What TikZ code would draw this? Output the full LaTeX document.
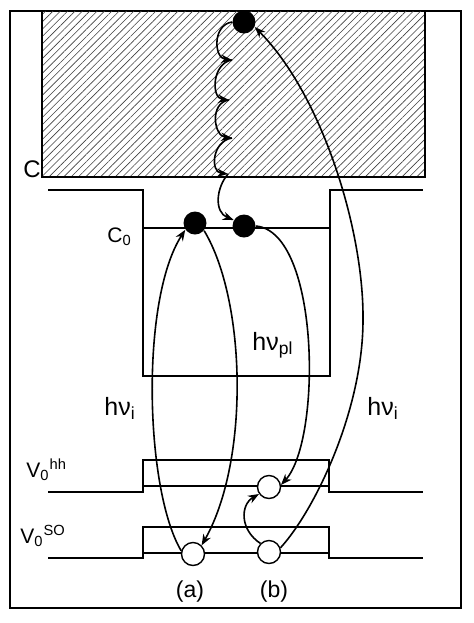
\documentclass[tikz,border=0pt]{standalone}
\usepackage{fontspec}
\setmainfont{Liberation Sans}
\usetikzlibrary{arrows.meta,patterns.meta}
\tikzset{
  frame/.style={draw,line width=1pt},
  band/.style={draw,line width=0.7pt},
  electron/.style={circle,fill=black,minimum size=11.5pt,inner sep=0pt},
  hole/.style={circle,draw,line width=0.7pt,fill=white,minimum size=11.5pt,inner sep=0pt},
  arrow/.style={-{Stealth[length=5.5pt,width=4.2pt]},line width=0.8pt},
  bigtext/.style={font=\fontsize{12}{12}\selectfont,inner sep=0pt},
  smalltext/.style={font=\fontsize{10.5}{11}\selectfont,inner sep=0pt},
  photon/.style={font=\fontsize{12.5}{14}\selectfont,inner sep=0pt}
}

\begin{document}
\begin{tikzpicture}[x=0.5pt,y=-0.5pt]
  \useasboundingbox (0,0) rectangle (474,623);
  \draw[frame] (10,11) rectangle (461,608);
  % continuum
  \fill[pattern={Lines[angle=45,distance=2.6pt,line width=0.3pt]},pattern color=black!75] (42,11) rectangle (425,177);
  \draw[band] (42,11) -- (42,177) -- (425,177) -- (425,11);
  % conduction band well
  \draw[band] (48,190) -- (143,190) -- (143,376) -- (330,376) -- (330,190) -- (423,190);
  \draw[band] (143,228) -- (330,228);
  % valence band steps
  \draw[band] (48,492) -- (143,492) -- (143,460) -- (329,460) -- (329,492) -- (423,492);
  \draw[band] (143,486) -- (329,486);
  \draw[band] (48,558) -- (143,558) -- (143,527) -- (329,527) -- (329,558) -- (423,558);
  \draw[band] (143,553) -- (329,553);

  % carriers
  \node[electron] (top) at (244,22) {};
  \node[electron] (e1) at (195,223) {};
  \node[electron] (e2) at (244,226) {};
  \node[hole] (ha) at (193,554) {};
  \node[hole] (hb1) at (269,487) {};
  \node[hole] (hb2) at (269,552) {};

  % labels
  \node[bigtext,anchor=base east] (cl) at (41,177) {C};
  \node[smalltext,anchor=base west] (c0) at (107,242) {C\textsubscript{0}};
  \node[smalltext,anchor=base west] (vhh) at (26,477) {V\textsubscript{0}\textsuperscript{hh}};
  \node[smalltext,anchor=base west] (vso) at (20,543) {V\textsubscript{0}\textsuperscript{SO}};
  \node[photon,anchor=base west] (hvia) at (104,415) {hν\textsubscript{i}};
  \node[photon,anchor=base west] (hvpl) at (252,350) {hν\textsubscript{pl}};
  \node[photon,anchor=base west] (hvib) at (367,415) {hν\textsubscript{i}};
  \node[smalltext,font=\fontsize{11.5}{12}\selectfont] (la) at (190,592) {(a)};
  \node[smalltext,font=\fontsize{11.5}{12}\selectfont] (lb) at (274,592) {(b)};

  % (a)
  \draw[arrow] (ha.165) .. controls (145,490) and (140,300) .. (e1.215);
  \draw[arrow] (e1.-40) .. controls (246,300) and (250,460) .. (ha.45);
  % (b)
  \draw[arrow] (e2.east) .. controls (320,232) and (322,440) .. (hb1.10);
  \draw[arrow] (hb2.135) .. controls (240,530) and (240,505) .. (hb1.215);
  \draw[arrow] (hb2.20) .. controls (315,510) and (363,410) .. (363,320)
    .. controls (364,230) and (322,95) .. (top.-25);
  % relaxation through the continuum
  \foreach \i/\x/\y in {1/232/60,2/229/100,3/232/138,4/228/174}
    \coordinate (w\i) at (\x,\y);
  \foreach \a/\b in {top.west/w1,w1/w2,w2/w3,w3/w4}
    \draw[arrow] (\a) .. controls +(-20,3) and +(-18,-2) .. (\b);
  \draw[arrow] (w4) .. controls (216,188) and (214,212) .. (e2.150);
\end{tikzpicture}
\end{document}
